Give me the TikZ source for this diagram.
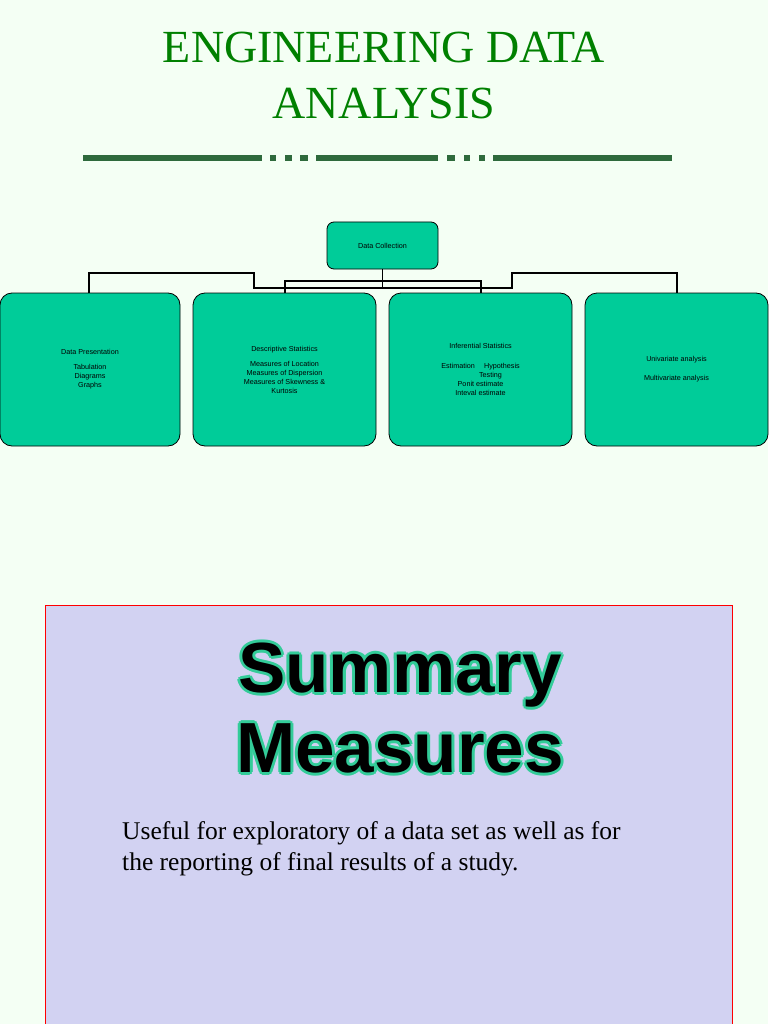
\documentclass[tikz,border=0pt]{standalone}
\usepackage{fontspec}
\setmainfont{Liberation Serif}
\newfontfamily\sans{Liberation Sans}
\begin{document}
\begin{tikzpicture}[x=1pt,y=-1pt,
  box/.style={draw=black,fill=boxgreen,rounded corners=12pt,line width=0.8pt,align=center,font=\sans\fontsize{7.2}{9}\selectfont,inner sep=0pt},
  conn/.style={line width=1.6pt},
  bar/.style={fill=bargreen,draw=none}]
\definecolor{bg}{HTML}{F4FFF4}
\definecolor{boxgreen}{HTML}{00CC99}
\definecolor{bargreen}{HTML}{2E6A3C}
\definecolor{lav}{HTML}{D2D2F2}
\definecolor{glow}{HTML}{33CC99}
\useasboundingbox (0,0) rectangle (768,1024);
\fill[bg] (0,0) rectangle (768,1024);
\node[text=green!50!black,font=\fontsize{46}{56}\selectfont,align=center] (title) at (384,75) {ENGINEERING DATA\\ANALYSIS};
\foreach \a/\b in {83/262,270/276,285/292,300/308,316/438,447/455,464/470,479/485,493/672}
  \fill[bar] (\a,155) rectangle (\b,161);
\node[box,minimum width=111pt,minimum height=47pt,rounded corners=7pt] (dc) at (382.5,245.5) {Data Collection};
\node[box,minimum width=180pt,minimum height=153pt] (b1) at (90,369.5) {Data Presentation\\[6pt]Tabulation\\Diagrams\\Graphs};
\node[box,minimum width=183pt,minimum height=153pt] (b2) at (284.5,369.5) {Descriptive Statistics\\[6pt]Measures of Location\\Measures of Dispersion\\Measures of Skewness \&\\Kurtosis};
\node[box,minimum width=183pt,minimum height=153pt] (b3) at (480.5,369.5) {\raisebox{9pt}{Inferential Statistics}\\[2pt]Estimation\quad\ Hypothesis\\\hspace*{20pt}Testing\\Ponit estimate\\Inteval estimate};
\node[box,minimum width=183pt,minimum height=153pt] (b4) at (676.5,369.5) {Univariate analysis\\[10pt]Multivariate analysis};
\draw[conn] (dc.south) -- (382.5,288);
\draw[conn] (b1.north -| 89,0) -- (89,273) -- (254,273) -- (254,288) -- (512,288) -- (512,273) -- (677,273) -- (b4.north -| 677,0);
\draw[conn] (b2.north -| 285,0) -- (285,281) -- (481,281) -- (b3.north -| 481,0);
\filldraw[fill=lav,draw=red,line width=1pt] (45,605) rectangle (732,1030);
\foreach \dx/\dy in {3/0,-3/0,0/3,0/-3,2.1/2.1,-2.1/2.1,2.1/-2.1,-2.1/-2.1}
  \node[text=glow,font=\sans\bfseries\fontsize{71}{80}\selectfont,align=center] at (400+\dx,708+\dy) {Summary\\Measures};
\node[text=black,font=\sans\bfseries\fontsize{71}{80}\selectfont,align=center] (sm) at (400,708) {Summary\\Measures};
\node[anchor=north west,align=left,font=\fontsize{25.5}{31}\selectfont,inner sep=0pt] (txt) at (122,821) {Useful for exploratory of a data set as well as for\\the reporting of final results of a study.};
\end{tikzpicture}
\end{document}
